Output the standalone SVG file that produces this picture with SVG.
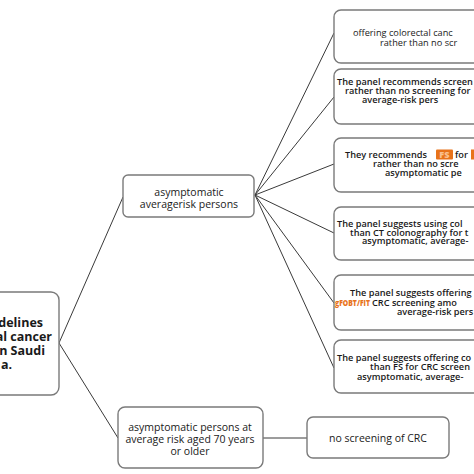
<svg xmlns="http://www.w3.org/2000/svg" width="474" height="474" viewBox="0 0 474 474">
<style>
.box{fill:#fff;stroke:#7a7a7a;stroke-width:1.4}
.t{font-family:"Open Sans","Noto Sans",sans-serif;fill:#1a1a1a}
.m{text-anchor:middle;font-size:10.5px}
.r{font-size:9.2px}
.sb{font-weight:600}
.root{font-size:12.5px;font-weight:700;text-anchor:end}
.c{stroke:#3a3a3a;stroke-width:1;fill:none}
.or{fill:#e8731a}
</style>
<rect width="474" height="474" fill="#fff"/>
<g id="connectors">
<line class="c" x1="59" y1="343" x2="123" y2="197"/>
<line class="c" x1="59" y1="343" x2="118" y2="438"/>
<line class="c" x1="255" y1="195" x2="334" y2="33"/>
<line class="c" x1="255" y1="195" x2="334" y2="97"/>
<line class="c" x1="255" y1="195" x2="334" y2="164"/>
<line class="c" x1="255" y1="195" x2="334" y2="233"/>
<line class="c" x1="255" y1="195" x2="334" y2="303"/>
<line class="c" x1="255" y1="195" x2="334" y2="368"/>
<line class="c" x1="263" y1="438" x2="307" y2="438"/>
</g>
<g id="root">
<rect class="box" x="-60" y="292" width="119" height="103" rx="8"/>
<text class="t root" x="43" y="327">delines</text>
<text class="t root" x="52" y="341">al cancer</text>
<text class="t root" x="45" y="355">n Saudi</text>
<text class="t root" x="12" y="369">a.</text>
</g>
<g id="avg">
<rect class="box" x="123" y="175" width="131" height="42" rx="5"/>
<text class="t m" x="189" y="196">asymptomatic</text>
<text class="t m" x="189" y="208">averagerisk persons</text>
</g>
<g id="box1">
<rect class="box" x="334" y="10" width="160" height="53" rx="7"/>
<text class="t r" x="353" y="35.5">offering colorectal canc</text>
<text class="t r" x="380" y="45.5">rather than no scr</text>
</g>
<g id="box2">
<rect class="box" x="334" y="69" width="160" height="55" rx="7"/>
<text class="t r sb" x="337" y="85">The panel recommends screen</text>
<text class="t r sb" x="345" y="94">rather than no screening for</text>
<text class="t r sb" x="362" y="103">average-risk pers</text>
</g>
<g id="box3">
<rect class="box" x="334" y="138" width="160" height="54" rx="7"/>
<text class="t r sb" x="345" y="157.5">They recommends</text>
<rect class="or" x="436" y="149.5" width="17" height="10" rx="1"/>
<text class="t r sb" x="444.5" y="157.5" style="fill:#f9c08f;text-anchor:middle;font-weight:800">FS</text>
<text class="t r sb" x="455" y="157.5">for</text>
<rect class="or" x="471" y="149.5" width="5" height="10"/>
<text class="t r sb" x="373" y="166.5">rather than no scre</text>
<text class="t r sb" x="385" y="175.5">asymptomatic pe</text>
</g>
<g id="box4">
<rect class="box" x="334" y="207" width="160" height="53" rx="7"/>
<text class="t r sb" x="337" y="227">The panel suggests using col</text>
<text class="t r sb" x="350" y="235.5">than CT colonography for t</text>
<text class="t r sb" x="362" y="244">asymptomatic, average-</text>
</g>
<g id="box5">
<rect class="box" x="334" y="275" width="160" height="55" rx="7"/>
<text class="t r sb" x="350" y="296">The panel suggests offering</text>
<text class="t r" x="335" y="305.5" textLength="35" lengthAdjust="spacingAndGlyphs" style="fill:#e8731a;font-weight:800">gFOBT/FIT</text>
<text class="t r sb" x="372" y="305.5">CRC screening amo</text>
<text class="t r sb" x="397" y="315">average-risk pers</text>
</g>
<g id="box6">
<rect class="box" x="334" y="340" width="160" height="53" rx="7"/>
<text class="t r sb" x="337" y="360.5">The panel suggests offering co</text>
<text class="t r sb" x="370" y="370">than FS for CRC screen</text>
<text class="t r sb" x="357" y="379.5">asymptomatic, average-</text>
</g>
<g id="old">
<rect class="box" x="118" y="407" width="145" height="61" rx="7"/>
<text class="t m" x="190" y="431">asymptomatic persons at</text>
<text class="t m" x="190" y="443">average risk aged 70 years</text>
<text class="t m" x="190" y="455">or older</text>
</g>
<g id="noscreen">
<rect class="box" x="307" y="417" width="142" height="41" rx="6"/>
<text class="t m" x="378" y="442">no screening of CRC</text>
</g>
</svg>
